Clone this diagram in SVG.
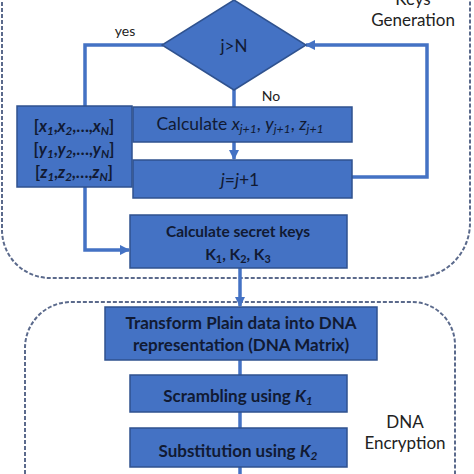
<svg xmlns="http://www.w3.org/2000/svg" width="474" height="474" viewBox="0 0 474 474">
<defs>
<style>
.box{fill:#4472C4;stroke:#2F528F;stroke-width:1.5}
.t{font-family:Lato,"Liberation Sans",sans-serif;fill:#111a33;text-anchor:middle}
.b{font-weight:bold}
.lbl{font-family:Lato,"Liberation Sans",sans-serif;fill:#222;text-anchor:middle}
.con{fill:none;stroke:#4472C4;stroke-width:3.5}
.region{fill:none;stroke:#5B6A8C;stroke-width:2;stroke-dasharray:4 2}
.sub{font-size:70%}
</style>
<marker id="ah" viewBox="0 0 10 10" refX="9" refY="5" markerWidth="3" markerHeight="3" orient="auto-start-reverse">
<path d="M0,0 L10,5 L0,10 z" fill="#4472C4"/>
</marker>
</defs>
<rect width="474" height="474" fill="#fff"/>

<g id="regions">
<path class="region" d="M2,-10 L2,230 A48,48 0 0 0 50,278 L415,278 A55,55 0 0 0 470,223 L470,-10"/>
<path class="region" d="M25,480 L25,348 A46,46 0 0 1 71,302 L412,302 A43,43 0 0 1 455,345 L455,480"/>
</g>

<g id="connectors">
<path class="con" d="M163,45 L85,45 L85,106"/>
<path class="con" d="M234,90 L234,107"/>
<path class="con" d="M234,142 L234,159" marker-end="url(#ah)"/>
<path class="con" d="M352,177 L427,177 L427,45 L306,45" marker-end="url(#ah)"/>
<path class="con" d="M85,187 L85,250 L129,250" marker-end="url(#ah)"/>
<path class="con" d="M240,268 L240,306" marker-end="url(#ah)"/>
<path class="con" d="M240,360 L240,375"/>
<path class="con" d="M240,412 L240,428"/>
<path class="con" d="M240,467 L240,480"/>
</g>

<g id="keys-label">
<text class="lbl" x="413" y="5" font-size="17">Keys</text>
<text class="lbl" x="413" y="26" font-size="17">Generation</text>
</g>
<text class="lbl" x="125" y="36" font-size="14">yes</text>
<text class="lbl" x="271" y="101" font-size="14">No</text>

<g id="decision">
<path class="box" d="M234,0 L306,45 L234,90 L162,45 z"/>
<text class="t" x="234" y="52" font-size="17">j&gt;N</text>
</g>

<g id="calc-xyz">
<rect class="box" x="133" y="107" width="219" height="35"/>
<text class="t" x="240" y="130" font-size="17.5">Calculate <tspan font-style="italic">x</tspan><tspan class="sub" font-style="italic" dy="3">j+1</tspan><tspan dy="-3">, </tspan><tspan font-style="italic">y</tspan><tspan class="sub" font-style="italic" dy="3">j+1</tspan><tspan dy="-3">, </tspan><tspan font-style="italic">z</tspan><tspan class="sub" font-style="italic" dy="3">j+1</tspan></text>
</g>

<g id="increment">
<rect class="box" x="133" y="160" width="219" height="38"/>
<text class="t" x="240" y="186" font-size="17.5"><tspan font-style="italic">j</tspan>=<tspan font-style="italic">j</tspan>+1</text>
</g>

<g id="lists">
<rect class="box" x="17" y="106" width="115" height="81"/>
<text class="t b" x="74" y="132" font-size="16.5">[<tspan font-style="italic">x</tspan><tspan class="sub" font-style="italic" dy="3">1</tspan><tspan dy="-3">,</tspan><tspan font-style="italic">x</tspan><tspan class="sub" font-style="italic" dy="3">2</tspan><tspan dy="-3">,…,</tspan><tspan font-style="italic">x</tspan><tspan class="sub" font-style="italic" dy="3">N</tspan><tspan dy="-3">]</tspan></text>
<text class="t b" x="74" y="155" font-size="16.5">[<tspan font-style="italic">y</tspan><tspan class="sub" font-style="italic" dy="3">1</tspan><tspan dy="-3">,</tspan><tspan font-style="italic">y</tspan><tspan class="sub" font-style="italic" dy="3">2</tspan><tspan dy="-3">,…,</tspan><tspan font-style="italic">y</tspan><tspan class="sub" font-style="italic" dy="3">N</tspan><tspan dy="-3">]</tspan></text>
<text class="t b" x="74" y="178" font-size="16.5">[<tspan font-style="italic">z</tspan><tspan class="sub" font-style="italic" dy="3">1</tspan><tspan dy="-3">,</tspan><tspan font-style="italic">z</tspan><tspan class="sub" font-style="italic" dy="3">2</tspan><tspan dy="-3">,…,</tspan><tspan font-style="italic">z</tspan><tspan class="sub" font-style="italic" dy="3">N</tspan><tspan dy="-3">]</tspan></text>
</g>

<g id="secret-keys">
<rect class="box" x="130" y="215" width="217" height="53"/>
<text class="t b" x="238" y="237" font-size="15.5">Calculate secret keys</text>
<text class="t b" x="238" y="260" font-size="15.5">K<tspan class="sub" dy="3">1</tspan><tspan dy="-3">, K</tspan><tspan class="sub" dy="3">2</tspan><tspan dy="-3">, K</tspan><tspan class="sub" dy="3">3</tspan></text>
</g>

<g id="transform">
<rect class="box" x="105" y="307" width="272" height="53"/>
<text class="t b" x="241" y="329" font-size="17">Transform Plain data into DNA</text>
<text class="t b" x="241" y="351" font-size="17">representation (DNA Matrix)</text>
</g>

<g id="scrambling">
<rect class="box" x="130" y="375" width="217" height="37"/>
<text class="t b" x="238" y="402" font-size="17">Scrambling using <tspan font-style="italic">K</tspan><tspan class="sub" font-style="italic" dy="3">1</tspan></text>
</g>

<g id="substitution">
<rect class="box" x="130" y="428" width="217" height="39"/>
<text class="t b" x="238" y="457" font-size="17">Substitution using <tspan font-style="italic">K</tspan><tspan class="sub" font-style="italic" dy="3">2</tspan></text>
</g>

<g id="dna-label">
<text class="lbl" x="405" y="428" font-size="17">DNA</text>
<text class="lbl" x="405" y="449" font-size="17">Encryption</text>
</g>
</svg>
